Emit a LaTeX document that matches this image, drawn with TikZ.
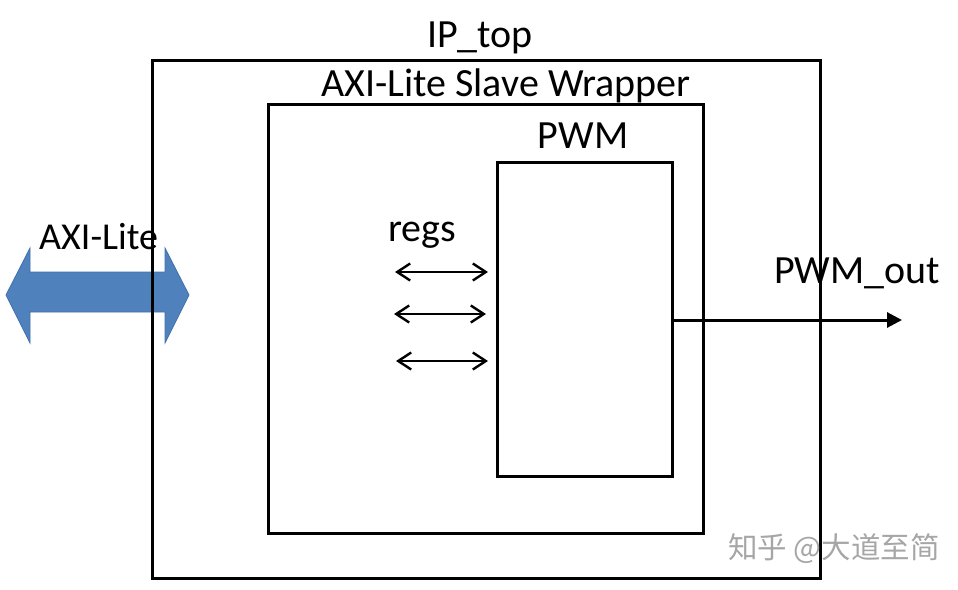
\documentclass[tikz,border=0pt]{standalone}
\usepackage{fontspec}
\setmainfont{Carlito}
\newfontfamily\cjk{Noto Sans CJK SC}
\usetikzlibrary{arrows.meta}
\definecolor{axiblue}{RGB}{79,129,189}
\definecolor{axiedge}{RGB}{65,113,170}
\tikzset{
  blockbox/.style={draw=black, line width=3pt, fill=none, inner sep=0pt},
  lbl/.style={inner sep=0pt, anchor=base, font=\fontsize{40}{44}\selectfont},
  regarrow/.style={line width=2.4pt, {Straight Barb[length=13pt,width=17pt,line width=2.4pt]}-{Straight Barb[length=13pt,width=17pt,line width=2.4pt]}},
  outarrow/.style={line width=3pt, -{Triangle[length=15pt,width=15pt]}},
}
\begin{document}
\begin{tikzpicture}[x=1pt,y=-1pt]
\useasboundingbox (0,0) rectangle (958,589);
% big bidirectional AXI-Lite arrow
\fill[axiblue, draw=axiedge, line width=0.8pt]
  (6,295) -- (30,248) -- (30,272) -- (165,272) -- (165,248) -- (189,295)
  -- (165,343) -- (165,312) -- (30,312) -- (30,343) -- cycle;
% boxes
\node[blockbox, minimum width=668pt, minimum height=518pt] (iptop) at (486,319) {};
\node[blockbox, minimum width=435pt, minimum height=429pt] (wrap) at (485.5,318.5) {};
\node[blockbox, minimum width=175pt, minimum height=314pt] (pwm) at (584.5,319) {};
% labels
\node[lbl] (iptoplbl) at (480,47) {IP\_top};
\node[lbl] (wraplbl) at (506,96) {AXI-Lite Slave Wrapper};
\node[lbl] (pwmlbl) at (583,148) {PWM};
\node[lbl, anchor=base west] (regslbl) at (388,241) {regs};
\node[lbl, anchor=base west, font=\fontsize{38}{42}\selectfont] (axilbl) at (39,249) {AXI-Lite};
\node[lbl, anchor=base west] (outlbl) at (774,283) {PWM\_out};
% regs arrows
\coordinate (r1a) at (395,272); \coordinate (r1b) at (488,272);
\coordinate (r2a) at (394,314); \coordinate (r2b) at (486,314);
\coordinate (r3a) at (396,361); \coordinate (r3b) at (488,361);
\draw[regarrow] (r1a) -- (r1b);
\draw[regarrow] (r2a) -- (r2b);
\draw[regarrow] (r3a) -- (r3b);
% PWM_out
\coordinate (outend) at (902,320);
\draw[outarrow] (pwm.east |- outend) -- (outend);
% watermark
\node[inner sep=0pt, anchor=base west, text=black!35, font=\cjk\fontsize{29.5}{32}\selectfont] (wm) at (728,558) {知乎 @大道至简};
\end{tikzpicture}
\end{document}
